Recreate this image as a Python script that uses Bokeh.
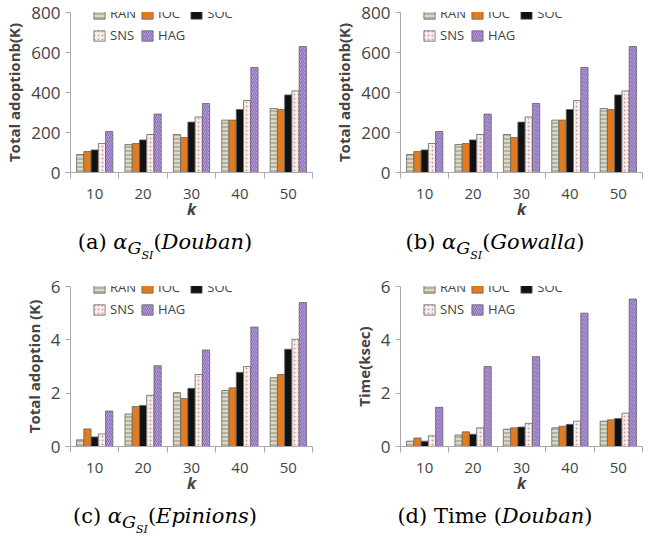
from bokeh.plotting import figure
from bokeh.models import FixedTicker, Range1d, Legend, LegendItem, Div, ColumnDataSource
from bokeh.layouts import gridplot, column
from bokeh.embed import file_html
from bokeh.resources import INLINE

k_labels = ["10", "20", "30", "40", "50"]
series = ["RAN", "IOC", "SOC", "SNS", "HAG"]

douban = {
    "RAN": [90, 140, 190, 262, 320],
    "IOC": [105, 145, 175, 262, 315],
    "SOC": [113, 163, 252, 315, 388],
    "SNS": [145, 190, 278, 360, 408],
    "HAG": [205, 292, 345, 525, 630],
}
gowalla = {
    "RAN": [90, 140, 190, 262, 320],
    "IOC": [105, 145, 175, 262, 315],
    "SOC": [113, 163, 252, 315, 388],
    "SNS": [145, 190, 278, 360, 408],
    "HAG": [205, 292, 345, 525, 630],
}
epinions = {
    "RAN": [0.25, 1.22, 2.02, 2.1, 2.58],
    "IOC": [0.66, 1.5, 1.8, 2.2, 2.7],
    "SOC": [0.36, 1.54, 2.18, 2.78, 3.65],
    "SNS": [0.47, 1.92, 2.7, 3.0, 4.02],
    "HAG": [1.33, 3.03, 3.62, 4.48, 5.4],
}
time_douban = {
    "RAN": [0.2, 0.43, 0.65, 0.7, 0.95],
    "IOC": [0.32, 0.55, 0.7, 0.76, 1.0],
    "SOC": [0.2, 0.46, 0.73, 0.83, 1.05],
    "SNS": [0.4, 0.7, 0.87, 0.95, 1.25],
    "HAG": [1.47, 3.0, 3.37, 5.0, 5.53],
}

styles = {
    "RAN": dict(fill_color="#dcd9c4", hatch_pattern="horizontal_line", hatch_color="#8f8c7a", hatch_scale=4, hatch_weight=1),
    "IOC": dict(fill_color="#e07b22"),
    "SOC": dict(fill_color="#111111"),
    "SNS": dict(fill_color="#fbeeee", hatch_pattern="dot", hatch_color="#c9a0a0", hatch_scale=4, hatch_weight=1),
    "HAG": dict(fill_color="#b39ad6", hatch_pattern="right_diagonal_line", hatch_color="#8a6cb8", hatch_scale=4, hatch_weight=1),
}

FONT = "Open Sans"
legend_order = ["RAN", "SNS", "IOC", "HAG", "SOC"]

def make(data, ymax, yticks, ylabel):
    p = figure(width=320, height=222, output_backend="svg", toolbar_location=None,
               x_range=Range1d(0.5, 5.5), y_range=Range1d(0, ymax),
               min_border_left=70, min_border_right=8, min_border_top=12, min_border_bottom=40)
    p.outline_line_color = None
    p.grid.visible = False
    p.background_fill_color = "white"
    xs = [1, 2, 3, 4, 5]
    w = 0.15
    rmap = {}
    for i, s in enumerate(series):
        off = (i - 2) * w
        src = ColumnDataSource(dict(x=[x + off for x in xs], top=data[s]))
        rmap[s] = p.vbar(x="x", top="top", width=w, bottom=0, source=src,
                         line_color="#666666", line_width=0.8, **styles[s])
    items = [LegendItem(label=s, renderers=[rmap[s]]) for s in legend_order]
    leg = Legend(items=items, ncols=3, location=(22, 128), border_line_color=None,
                 background_fill_alpha=0, label_text_font=FONT, label_text_font_size="13px",
                 glyph_width=14, glyph_height=13, spacing=4, label_standoff=4, padding=0,
                 margin=0, label_height=14)
    p.add_layout(leg, "center")
    xa = p.xaxis[0]
    xa.ticker = FixedTicker(ticks=xs, minor_ticks=[0.5, 1.5, 2.5, 3.5, 4.5, 5.5])
    xa.major_label_overrides = {i + 1: k_labels[i] for i in range(5)}
    xa.major_tick_line_color = None
    xa.minor_tick_in = 0
    xa.minor_tick_out = 6
    xa.minor_tick_line_color = "#aaaaaa"
    xa.axis_line_color = "#aaaaaa"
    xa.major_label_text_font = FONT
    xa.major_label_text_font_size = "15px"
    xa.major_label_standoff = 10
    xa.axis_label = "k"
    xa.axis_label_text_font = FONT
    xa.axis_label_text_font_style = "bold italic"
    xa.axis_label_text_font_size = "16px"
    xa.axis_label_standoff = -4
    ya = p.yaxis[0]
    ya.ticker = FixedTicker(ticks=yticks)
    ya.minor_tick_line_color = None
    ya.major_tick_in = 0
    ya.major_tick_out = 5
    ya.major_tick_line_color = "#aaaaaa"
    ya.axis_line_color = "#aaaaaa"
    ya.major_label_text_font = FONT
    ya.major_label_text_font_size = "17px"
    ya.axis_label = ylabel
    ya.axis_label_text_font = FONT
    ya.axis_label_text_font_style = "bold"
    ya.axis_label_text_font_size = "15px"
    ya.axis_label_standoff = 4
    return p

def caption(html):
    return Div(text=f"<div style='font-family:\"DejaVu Serif\",serif;font-size:21px;text-align:center;width:320px'>{html}</div>",
               width=320, height=42)

a = make(douban, 800, [0, 200, 400, 600, 800], "Total adoptionb(K)")
b = make(gowalla, 800, [0, 200, 400, 600, 800], "Total adoptionb(K)")
c = make(epinions, 6, [0, 2, 4, 6], "Total adoption (K)")
d = make(time_douban, 6, [0, 2, 4, 6], "Time(ksec)")

ca = caption("(a) <i>&alpha;</i><sub><i>G<sub style='font-size:11px'>SI</sub></i></sub>(<i>Douban</i>)")
cb = caption("(b) <i>&alpha;</i><sub><i>G<sub style='font-size:11px'>SI</sub></i></sub>(<i>Gowalla</i>)")
cc = caption("(c) <i>&alpha;</i><sub><i>G<sub style='font-size:11px'>SI</sub></i></sub>(<i>Epinions</i>)")
cd = caption("(d) Time (<i>Douban</i>)")

layout = gridplot([[column(a, ca), column(b, cb)], [column(c, cc), column(d, cd)]],
                  toolbar_location=None)

open("out.html", "w").write(file_html(layout, INLINE))
